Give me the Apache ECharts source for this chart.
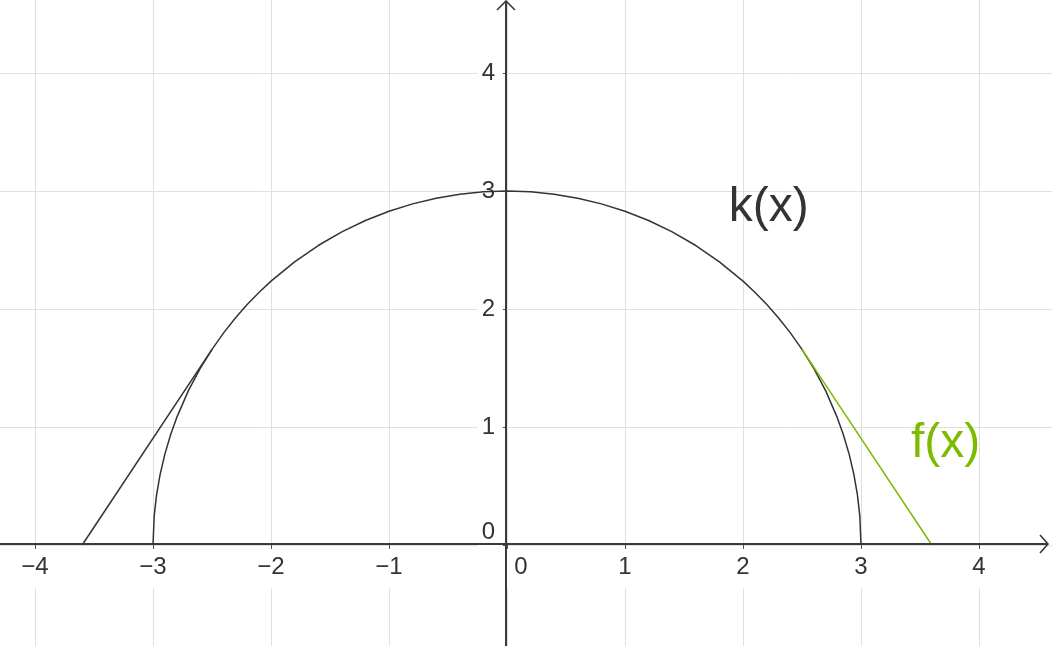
<!DOCTYPE html>
<html><head><meta charset="utf-8">
<script src="https://cdn.jsdelivr.net/npm/echarts@6/dist/echarts.min.js"></script>
<style>html,body{margin:0;padding:0;background:#fff}#c{width:1052px;height:646px}</style>
</head><body><div id="c"></div>
<script>
// semicircle k(x) (radius 3)
const circleX = [-3, -2.99, -2.97, -2.94, -2.9, -2.85, -2.8, -2.7, -2.6, -2.5, -2.4, -2.3, -2.2, -2.1, -2.0, -1.8, -1.6, -1.4, -1.2, -1.0, -0.8, -0.6, -0.4, -0.2, 0,
                 0.2, 0.4, 0.6, 0.8, 1.0, 1.2, 1.4, 1.6, 1.8, 2.0, 2.1, 2.2, 2.3, 2.4, 2.5, 2.6, 2.7, 2.8, 2.85, 2.9, 2.94, 2.97, 2.99, 3];
const circleY = [0, 0.245, 0.423, 0.597, 0.768, 0.937, 1.077, 1.308, 1.497, 1.658, 1.8, 1.926, 2.040, 2.142, 2.236, 2.4, 2.538, 2.653, 2.750, 2.828, 2.891, 2.939, 2.973, 2.993, 3,
                 2.993, 2.973, 2.939, 2.891, 2.828, 2.750, 2.653, 2.538, 2.4, 2.236, 2.142, 2.040, 1.926, 1.8, 1.658, 1.497, 1.308, 1.077, 0.937, 0.768, 0.597, 0.423, 0.245, 0];
// tangent lines
const leftTangentX = [-3.6, -2.5];
const leftTangentY = [0, 1.658];
const rightTangentX = [2.5, 3.6];
const rightTangentY = [1.658, 0];
// labels
const curveLabels = ['k(x)', 'f(x)'];
const xTickValues = [-5, -4, -3, -2, -1, 0, 1, 2, 3, 4, 5];
const yTickValues = [-1, 0, 1, 2, 3, 4, 5];

const zip = (a, b) => a.map((v, i) => [v, b[i]]);
const FONT = '"Liberation Sans", Arial, sans-serif';
const DARK = '#333333';
const GREEN = '#7cbb00';
const fmt = v => String(v).replace('-', '\u2212');

// layout: 118 px per unit, origin at (507, 545)
const UNIT = 118, OX = 507, OY = 545;
const xMin = xTickValues[0], xMax = xTickValues[xTickValues.length - 1];
const yMin = yTickValues[0], yMax = yTickValues[yTickValues.length - 1];

const chart = echarts.init(document.getElementById('c'), null, {renderer: 'canvas'});
const option = {
  animation: false,
  backgroundColor: '#ffffff',
  grid: {left: OX + xMin * UNIT, top: OY - yMax * UNIT, width: (xMax - xMin) * UNIT, height: (yMax - yMin) * UNIT,
         outerBoundsMode: 'none', containLabel: false},
  xAxis: {
    type: 'value', min: xMin, max: xMax, interval: 1, position: 'bottom', offset: yMin * UNIT,
    axisLine: {show: false, onZero: false},
    axisTick: {show: true, length: 4, lineStyle: {color: '#555555', width: 1}},
    splitLine: {show: true, lineStyle: {color: '#e0e0e0', width: 1}},
    axisLabel: {
      show: true, margin: 4, fontSize: 24, color: DARK, fontFamily: FONT,
      backgroundColor: '#ffffff', padding: [6, 4, 9, 4],
      showMinLabel: true, showMaxLabel: true, hideOverlap: false,
      formatter: v => v === 0 ? '{z|0}' : fmt(v),
      rich: {z: {fontSize: 24, color: DARK, fontFamily: FONT, padding: [0, 0, 0, 28]}}
    }
  },
  yAxis: {
    type: 'value', min: yMin, max: yMax, interval: 1, position: 'left', offset: xMin * UNIT,
    axisLine: {show: false, onZero: false},
    axisTick: {show: true, length: 4, lineStyle: {color: '#555555', width: 1}},
    splitLine: {show: true, lineStyle: {color: '#e0e0e0', width: 1}},
    axisLabel: {
      show: true, margin: 5, fontSize: 24, color: DARK, fontFamily: FONT,
      backgroundColor: '#ffffff', padding: [2, 7, 2, 4],
      showMinLabel: true, showMaxLabel: true, hideOverlap: false,
      formatter: v => v === 0 ? '{z|0}' : fmt(v),
      rich: {z: {fontSize: 24, color: DARK, fontFamily: FONT, padding: [0, 0, 25, 0]}}
    }
  },
  series: [
    {type: 'line', name: curveLabels[0], data: zip(circleX, circleY), showSymbol: false, smooth: false,
     lineStyle: {color: DARK, width: 1.5}, z: 3},
    {type: 'line', name: 'tangentLeft', data: zip(leftTangentX, leftTangentY), showSymbol: false,
     lineStyle: {color: DARK, width: 1.5}, z: 3},
    {type: 'line', name: curveLabels[1], data: zip(rightTangentX, rightTangentY), showSymbol: false,
     lineStyle: {color: GREEN, width: 1.5}, z: 4}
  ]
};
chart.setOption(option);

// axes with open arrowheads (GeoGebra style), positioned via the chart's own scales
const W = chart.getWidth(), H = chart.getHeight();
const o = chart.convertToPixel({gridIndex: 0}, [0, 0]);
const ax = o[0] - 1, ay = o[1] - 1;
const kPos = chart.convertToPixel({gridIndex: 0}, [1.88, 2.855]);
const fPos = chart.convertToPixel({gridIndex: 0}, [3.424, 0.855]);
const tipX = W - 4, tipY = 1;
const axisStyle = {stroke: '#3a3a3a', lineWidth: 2, fill: null};
const arrowStyle = {stroke: '#3a3a3a', lineWidth: 1.6, fill: null};
chart.setOption({
  graphic: [
    {type: 'polyline', z: 100, shape: {points: [[0, ay], [tipX, ay]]}, style: axisStyle},
    {type: 'polyline', z: 100, shape: {points: [[tipX - 8, ay - 9], [tipX, ay], [tipX - 8, ay + 9]]}, style: arrowStyle},
    {type: 'polyline', z: 100, shape: {points: [[ax, H], [ax, tipY]]}, style: axisStyle},
    {type: 'polyline', z: 100, shape: {points: [[ax - 9, tipY + 9], [ax, tipY], [ax + 9, tipY + 9]]}, style: arrowStyle},
    {type: 'text', z: 100, x: kPos[0], y: kPos[1],
     style: {text: curveLabels[0], fontSize: 48, fontFamily: FONT, fill: DARK, align: 'left', verticalAlign: 'middle'}},
    {type: 'text', z: 100, x: fPos[0], y: fPos[1],
     style: {text: curveLabels[1], fontSize: 48, fontFamily: FONT, fill: GREEN, align: 'left', verticalAlign: 'middle'}}
  ]
});
</script>
</body></html>
